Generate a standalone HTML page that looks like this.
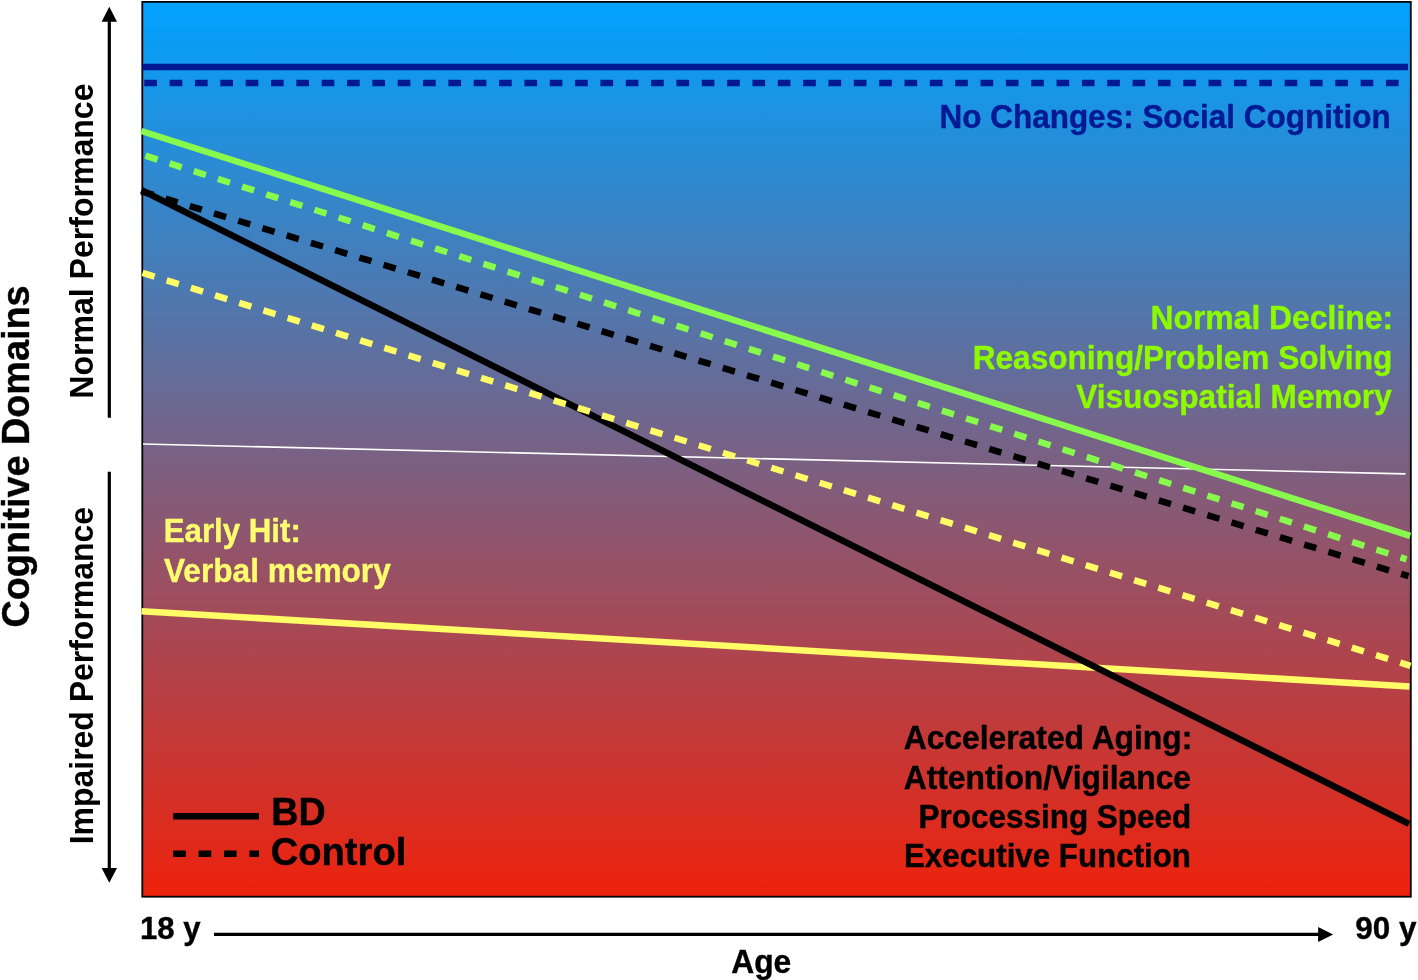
<!DOCTYPE html>
<html lang="en">
<head>
<meta charset="utf-8">
<title>Cognitive Domains vs Age</title>
<style>
html,body{margin:0;padding:0;background:#fff;}
body{width:1418px;height:980px;overflow:hidden;}
svg{display:block;}
text{font-family:"Liberation Sans",Arial,Helvetica,sans-serif;font-weight:bold;stroke-linejoin:round;}
</style>
</head>
<body>
<svg width="1418" height="980" viewBox="0 0 1418 980">
<defs>
<linearGradient id="bg" x1="0" y1="0" x2="0" y2="1">
<stop offset="0" stop-color="#00a2ff"/>
<stop offset="1" stop-color="#ee220c"/>
</linearGradient>
</defs>
<rect x="0" y="0" width="1418" height="980" fill="#fff"/>
<rect x="142.3" y="1.9" width="1268.5" height="894.8" fill="url(#bg)"/>
<rect x="142.3" y="1.9" width="1268.5" height="894.8" fill="none" stroke="#000" stroke-width="1.8"/>
<g fill="none" stroke-linecap="butt" stroke-width="6.5">
<!-- white thin reference line -->
<line x1="143" y1="444" x2="1405.5" y2="473.9" stroke="#fff" stroke-width="1.6"/>
<!-- blue: no change -->
<line x1="142.3" y1="67" x2="1408" y2="67" stroke="#011993"/>
<line x1="144.3" y1="83" x2="1408" y2="83" stroke="#011993" stroke-dasharray="12.67 12.67"/>
<!-- yellow solid -->
<line x1="141.5" y1="611.2" x2="1409.5" y2="686.4" stroke="#fffc66"/>
<!-- green -->
<line x1="141.3" y1="131" x2="1410.2" y2="535.8" stroke="#88fa4e"/>
<line x1="145.5" y1="155.7" x2="1406.5" y2="559.3" stroke="#88fa4e" stroke-dasharray="12.67 12.67"/>
<!-- black -->
<line x1="141.3" y1="191.3" x2="1408.5" y2="576.2" stroke="#000" stroke-dasharray="12.66 12.66"/>
<line x1="141.5" y1="190.1" x2="1409" y2="823.8" stroke="#000"/>
<!-- yellow dashed (on top) -->
<line x1="142.5" y1="272.9" x2="1410.5" y2="665.8" stroke="#fffc66" stroke-dasharray="12.66 12.66"/>
</g>

<!-- legend -->
<line x1="173.2" y1="816.2" x2="259" y2="816.2" stroke="#000" stroke-width="6.5"/>
<line x1="173.2" y1="853.8" x2="259" y2="853.8" stroke="#000" stroke-width="6.5" stroke-dasharray="12.6 12.8"/>

<!-- axes -->
<line x1="214" y1="934.4" x2="1320" y2="934.4" stroke="#000" stroke-width="3.2"/>
<polygon points="1333.1,934.4 1318.1,926.9 1318.1,941.9" fill="#000"/>
<line x1="109.3" y1="20" x2="109.3" y2="417.7" stroke="#000" stroke-width="3.2"/>
<polygon points="109.3,6.7 101.6,21.7 117,21.7" fill="#000"/>
<line x1="109.3" y1="471.8" x2="109.3" y2="869" stroke="#000" stroke-width="3.2"/>
<polygon points="109.3,882.7 101.6,867.9 117,867.9" fill="#000"/>

<text x="271.35" y="824.60" font-size="39" fill="#000" stroke="#000" stroke-width="0.4" textLength="54.49" lengthAdjust="spacingAndGlyphs">BD</text>
<text x="270.71" y="864.70" font-size="39" fill="#000" stroke="#000" stroke-width="0.4" textLength="135.61" lengthAdjust="spacingAndGlyphs">Control</text>
<text x="939.48" y="127.80" font-size="32.4" fill="#011993" stroke="#011993" stroke-width="0.4" textLength="451.28" lengthAdjust="spacingAndGlyphs">No Changes: Social Cognition</text>
<text x="1150.46" y="328.80" font-size="32.4" fill="#8efa00" stroke="#8efa00" stroke-width="0.4" textLength="242.59" lengthAdjust="spacingAndGlyphs">Normal Decline:</text>
<text x="972.73" y="368.50" font-size="32.4" fill="#8efa00" stroke="#8efa00" stroke-width="0.4" textLength="419.53" lengthAdjust="spacingAndGlyphs">Reasoning/Problem Solving</text>
<text x="1076.25" y="408.20" font-size="32.4" fill="#8efa00" stroke="#8efa00" stroke-width="0.4" textLength="315.50" lengthAdjust="spacingAndGlyphs">Visuospatial Memory</text>
<text x="163.69" y="542.00" font-size="32.4" fill="#fffc70" stroke="#fffc70" stroke-width="0.4" textLength="137.15" lengthAdjust="spacingAndGlyphs">Early Hit:</text>
<text x="164.00" y="581.70" font-size="32.4" fill="#fffc70" stroke="#fffc70" stroke-width="0.4" textLength="226.75" lengthAdjust="spacingAndGlyphs">Verbal memory</text>
<text x="903.74" y="749.00" font-size="32.4" fill="#000" stroke="#000" stroke-width="0.4" textLength="288.54" lengthAdjust="spacingAndGlyphs">Accelerated Aging:</text>
<text x="903.75" y="788.60" font-size="32.4" fill="#000" stroke="#000" stroke-width="0.4" textLength="287.26" lengthAdjust="spacingAndGlyphs">Attention/Vigilance</text>
<text x="918.47" y="827.80" font-size="32.4" fill="#000" stroke="#000" stroke-width="0.4" textLength="272.80" lengthAdjust="spacingAndGlyphs">Processing Speed</text>
<text x="903.98" y="867.40" font-size="32.4" fill="#000" stroke="#000" stroke-width="0.4" textLength="287.04" lengthAdjust="spacingAndGlyphs">Executive Function</text>
<text x="139.94" y="939.10" font-size="31.6" fill="#000" stroke="#000" stroke-width="0.4" textLength="60.56" lengthAdjust="spacingAndGlyphs">18 y</text>
<text x="1355.24" y="939.20" font-size="31.6" fill="#000" stroke="#000" stroke-width="0.4" textLength="61.26" lengthAdjust="spacingAndGlyphs">90 y</text>
<text x="731.23" y="972.50" font-size="32.4" fill="#000" stroke="#000" stroke-width="0.4" textLength="60.04" lengthAdjust="spacingAndGlyphs">Age</text>
<text transform="translate(29.40,0) rotate(-90)" x="-627.51" y="0" font-size="39" fill="#000" stroke="#000" stroke-width="0.4" textLength="342.02" lengthAdjust="spacingAndGlyphs">Cognitive Domains</text>
<text transform="translate(93.00,0) rotate(-90)" x="-398.78" y="0" font-size="33" fill="#000" textLength="315.29" lengthAdjust="spacingAndGlyphs">Normal Performance</text>
<text transform="translate(92.70,0) rotate(-90)" x="-844.27" y="0" font-size="33" fill="#000" textLength="337.28" lengthAdjust="spacingAndGlyphs">Impaired Performance</text>
</svg>
</body>
</html>
